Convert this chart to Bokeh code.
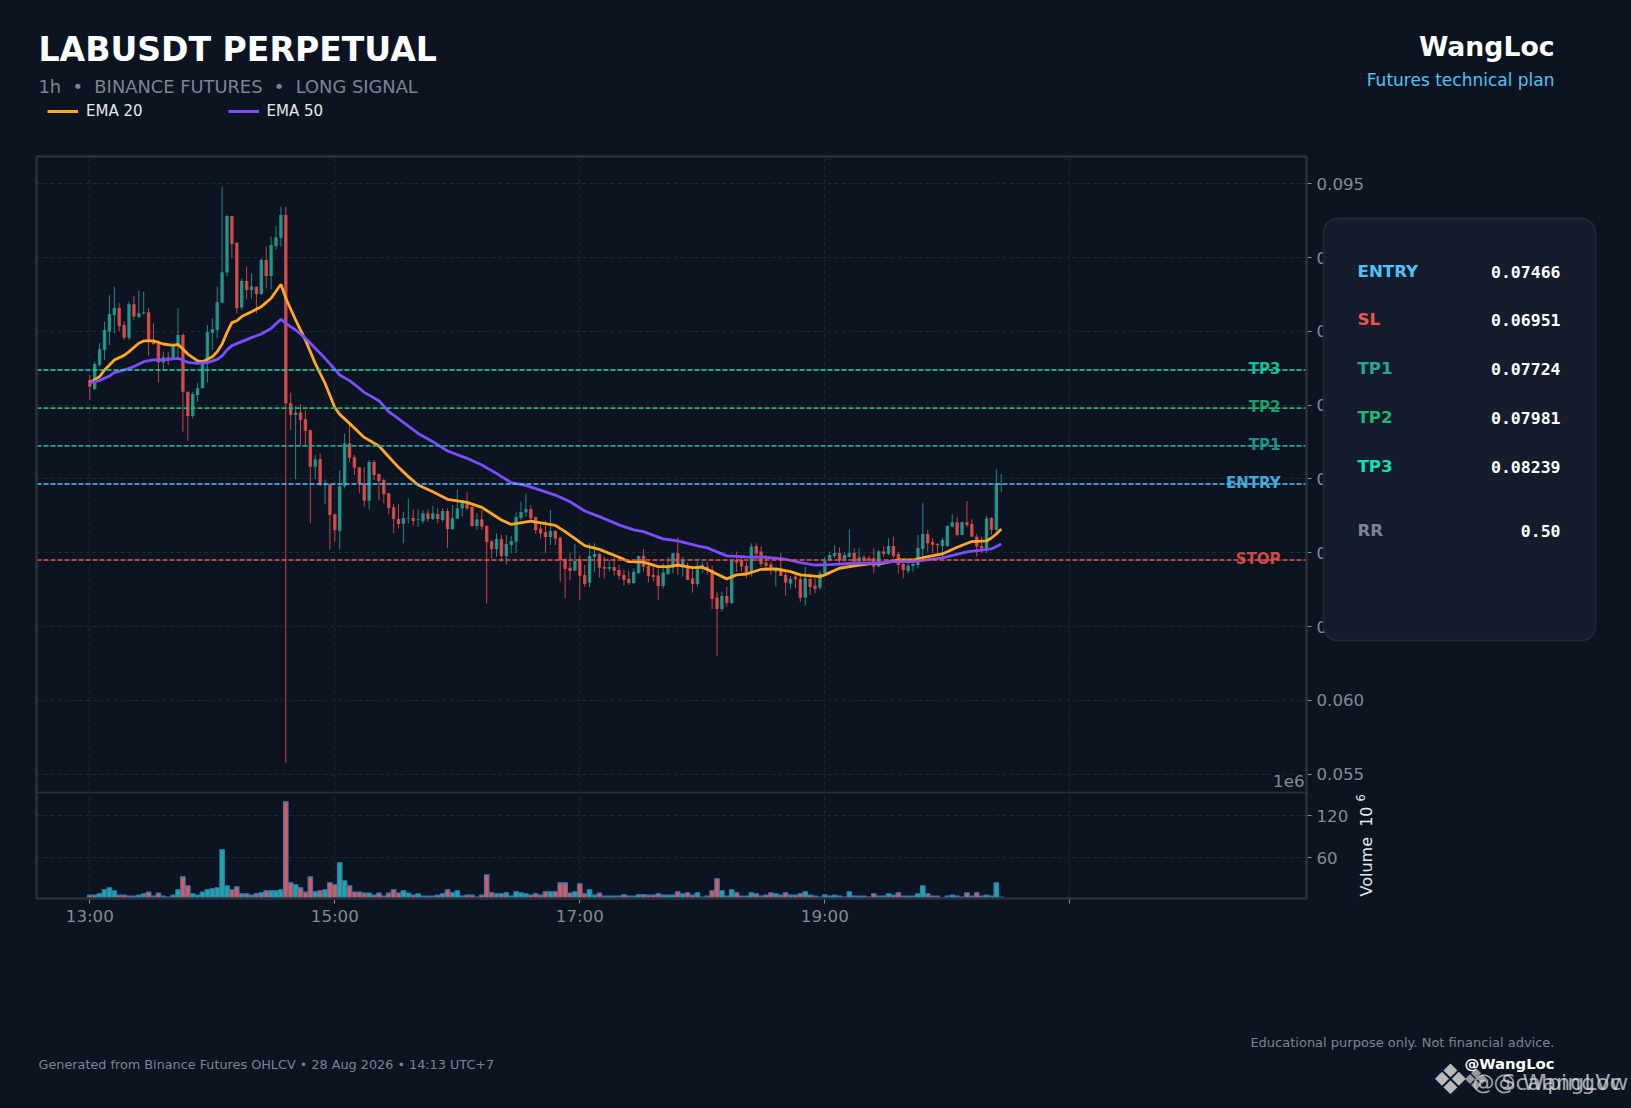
from bokeh.plotting import figure
from bokeh.models import (ColumnDataSource, Range1d, FixedTicker, Grid, Span, Label, BoxAnnotation,
                          Legend, LegendItem)
from bokeh.layouts import column
from bokeh.embed import file_html
from bokeh.resources import INLINE
import math

# ---- data (prices in units of 1e-5) ----
open_e5 = [8171,8110,8273,8375,8499,8612,8659,8544,8458,8684,8598,8623,8630,8442,8415,8289,8325,8318,8397,8476,
 8092,7927,8069,8115,8284,8492,8510,8695,8899,9283,9102,8662,8842,8781,8804,8754,8985,8876,9080,9136,
 9290,8013,7934,7950,7907,7832,7583,7635,7457,7466,7260,7149,7452,7742,7647,7579,7470,7353,7615,7534,
 7493,7403,7308,7229,7197,7231,7235,7222,7215,7267,7229,7262,7222,7283,7161,7231,7301,7346,7312,7181,
 7226,7181,7077,7025,7093,6978,7052,7075,7235,7274,7296,7242,7163,7140,7107,7147,7102,6957,6899,6878,
 6957,6849,6797,6973,6991,6903,6892,6903,6883,6850,6823,6795,6863,6979,6911,6850,6845,6775,6856,6899,
 6997,6906,6906,6827,6789,6890,6906,6884,6696,6619,6707,6660,6951,6951,6913,6872,7046,7008,6933,6922,
 6872,6895,6850,6791,6838,6823,6696,6823,6777,6764,6861,6951,6979,6999,6956,6972,6999,6940,6969,6963,
 6963,6906,7010,6992,7046,6992,6924,6877,6911,6917,7026,7128,7073,7060,7046,7046,7177,7207,7121,7207,
 7195,7110,7046,7030,7236,7155,7460]
high_e5 = [8205,8295,8420,8567,8745,8804,8691,8567,8702,8741,8777,8770,8657,8555,8442,8363,8363,8424,8657,8488,
 8092,8092,8149,8307,8544,8589,8804,9482,9290,9283,9102,8860,8940,8894,8804,8996,9075,9143,9215,9346,
 9346,8085,7995,8008,7968,7832,7662,7674,7493,7466,7267,7561,7809,7877,7662,7579,7579,7629,7629,7534,
 7504,7403,7330,7330,7278,7369,7294,7294,7290,7294,7317,7301,7301,7301,7323,7430,7357,7409,7312,7267,
 7290,7186,7086,7131,7120,7120,7113,7278,7346,7403,7323,7244,7188,7217,7290,7154,7109,6962,6996,7059,
 6984,6917,7068,7064,6996,6973,6951,6969,6917,6884,6877,6895,6979,7026,6940,6917,6895,6929,6970,7001,
 7105,6974,6933,6911,6940,6940,6940,6911,6732,6737,6771,6951,7008,6974,6940,7064,7064,7042,6985,6940,
 6895,6997,6884,6843,6861,6861,6906,6861,6827,6879,6974,7008,7051,7037,7008,7159,7030,7030,6985,6979,
 7030,7019,7042,7098,7110,7008,6951,6929,6947,7121,7336,7155,7098,7064,7103,7182,7263,7241,7211,7351,
 7227,7128,7110,7250,7241,7566,7534]
low_e5 = [8036,8103,8262,8307,8408,8488,8499,8442,8442,8578,8590,8612,8336,8408,8155,8239,8273,8307,8318,7821,
 7760,7911,8024,8115,8155,8375,8454,8691,8872,8996,8623,8646,8718,8725,8623,8747,8793,8786,9053,9075,
 5575,7832,7498,7726,7730,7199,7498,7452,7328,7023,7075,7023,7436,7617,7527,7403,7308,7294,7493,7357,
 7335,7262,7131,7165,7064,7199,7183,7177,7199,7210,7222,7199,7210,7034,7154,7231,7244,7290,7177,7154,
 7154,6657,6962,6973,6939,6921,6996,6996,7222,7244,7222,7127,7097,6996,7052,7052,6804,6691,6815,6878,
 6679,6770,6765,6871,6833,6826,6871,6846,6820,6777,6782,6789,6857,6872,6800,6805,6680,6759,6850,6861,
 6850,6838,6816,6730,6771,6861,6850,6617,6301,6601,6635,6653,6872,6872,6827,6838,6940,6906,6895,6850,
 6771,6843,6710,6753,6759,6669,6642,6714,6725,6748,6850,6940,6963,6917,6940,6969,6911,6918,6911,6933,
 6861,6906,6974,6985,6963,6861,6827,6861,6872,6895,6951,7008,6997,6985,6974,7037,7173,7110,7121,7173,
 7105,6974,6997,6997,7121,7144,7412]
close_e5 = [8126,8280,8379,8510,8619,8659,8537,8458,8684,8601,8623,8630,8442,8415,8289,8325,8307,8397,8476,8092,
 7927,8076,8115,8284,8494,8515,8698,8901,9283,9093,8657,8842,8781,8804,8754,8985,8876,9086,9138,9290,
 8013,7934,7950,7900,7827,7583,7633,7459,7466,7256,7154,7452,7742,7644,7577,7470,7353,7615,7527,7486,
 7398,7305,7229,7195,7235,7235,7215,7226,7267,7229,7267,7229,7283,7161,7233,7301,7335,7301,7181,7226,
 7177,7073,7025,7093,6978,7059,7079,7242,7276,7296,7233,7154,7131,7107,7147,7095,6951,6890,6876,6944,
 6844,6788,6978,6991,6899,6892,6903,6878,6844,6816,6795,6870,6979,6906,6843,6836,6775,6866,6899,6997,
 6906,6947,6816,6789,6906,6917,6884,6687,6619,6707,6660,6951,6933,6906,6854,7042,6994,6924,6911,6895,
 6884,6843,6798,6823,6820,6694,6827,6768,6755,6861,6947,6985,6999,6947,6985,6999,6940,6969,6947,6947,
 6906,7010,6992,7046,6979,6917,6884,6913,6924,7033,7128,7064,7053,7051,7087,7182,7207,7121,7207,7189,
 7110,7042,7030,7232,7155,7471,7466]
volume_m = [6.7,6.7,8.6,14.3,17.1,12.9,6.7,6.7,5.2,5.2,6.7,8.6,10.9,5.2,9.5,5.2,3.8,6.7,14.3,32.8,
 20,8.6,6.7,10.9,14.3,15.7,17.1,71.4,20,14.3,18.6,8.6,8.6,6.7,8.6,10,12.9,12.9,12.9,14.3,
 140,24.3,21.4,17.1,10.9,32.8,11.4,12.9,14.3,24.3,21.4,52.8,27.1,20,10.9,10.9,9.5,9.5,6.7,9.5,
 5.2,9.5,14.3,9.5,12.9,9.5,6.7,8.6,5.2,5.2,5.2,6.7,8.6,14.3,10,12.9,5.2,6.7,6.7,3.8,
 6.7,35.7,10,8.6,8.6,10,5.2,11.4,10,8.6,6.7,8.6,6.7,11.4,11.4,11.4,24.3,24.3,9.5,11.4,
 22.8,8.6,14.3,6.7,9.5,5.2,5.2,5.2,5.2,7.1,5.2,5.2,7.1,7.1,6.7,6.7,8.6,6.7,6.7,6.7,
 11.4,8.6,10,6.7,10,3.8,5.2,12.9,30,12.9,5.2,14.3,10,5.2,5.2,10,8.6,5.2,6.7,10,
 8.6,6.7,10,6.7,6.7,8.6,11.4,6.7,5.2,3.8,7.1,5.2,6.7,5.2,3.8,11.4,5.2,5.2,5.2,3.8,
 8.6,5.2,5.2,8.6,6.7,10,5.2,5.2,5.2,8.6,20,8.6,5.2,5.2,2.9,5.2,6.7,5.2,3.8,10,
 5.2,10,5.2,6.7,5.2,24.3,3.8]
ema20_idx = [0,2,3,5,7,8,10,11,13,15,17,18,20,22,23,25,26,27,28,29,30,31,33,35,37,39,40,42,44,46,48,50,51,53,56,59,61,63,65,67,70,73,77,80,84,86,90,95,97,101,104,108,110,113,116,118,120,123,125,127,130,132,134,137,140,143,145,149,150,153,156,159,162,165,168,171,174,177,180,183,184,185,186]
ema20_e5 = [8153,8194,8239,8307,8338,8363,8420,8436,8436,8415,8406,8413,8347,8300,8295,8329,8363,8415,8494,8560,8573,8601,8634,8668,8725,8820,8725,8578,8442,8284,8149,7985,7938,7877,7782,7724,7651,7579,7516,7459,7414,7362,7342,7308,7222,7192,7215,7186,7143,7048,7023,6970,6940,6936,6906,6906,6917,6899,6902,6872,6823,6850,6856,6888,6890,6872,6850,6838,6850,6895,6911,6924,6929,6951,6951,6974,6992,7037,7076,7080,7100,7127,7161]
ema50_idx = [0,2,4,5,7,9,11,13,15,18,20,22,24,26,27,28,29,31,33,35,37,39,40,42,44,46,48,50,51,53,55,56,59,61,64,67,70,73,77,80,83,86,89,95,98,101,104,108,111,113,117,120,124,126,130,134,138,142,145,148,151,156,160,164,168,174,179,184,186]
ema50_e5 = [8153,8167,8198,8221,8239,8262,8295,8307,8307,8318,8291,8284,8289,8311,8334,8375,8404,8431,8458,8483,8521,8583,8555,8510,8454,8386,8318,8244,8205,8167,8115,8087,8031,7956,7884,7809,7753,7690,7640,7595,7538,7475,7457,7391,7346,7283,7245,7189,7155,7143,7094,7080,7046,7033,6979,6972,6969,6956,6933,6917,6920,6929,6929,6940,6940,6965,7006,7026,7060]
time_ticks = [0, 50, 100, 150, 200]
time_labels = ["13:00", "15:00", "17:00", "19:00", ""]
price_ticks = [0.055, 0.060, 0.065, 0.070, 0.075, 0.080, 0.085, 0.090, 0.095]
volume_ticks = [60, 120]
levels = [("ENTRY", 0.07466), ("SL", 0.06951), ("TP1", 0.07724), ("TP2", 0.07981), ("TP3", 0.08239)]
rr_value = "0.50"

# ---- style ----
BG = "#0c1421"; FRAME = "#2a303b"; GRID = "#1e2632"; TICK_TXT = "#848a95"
UP = "#26a69a"; DOWN = "#ef5350"; VOL_EDGE = "#2a7fc0"
LEVEL_COL = {"ENTRY": "#4fc3f7", "SL": "#ef5350", "TP1": "#26a69a", "TP2": "#22b573", "TP3": "#14e0ae"}
FONT = "DejaVu Sans"; MONO = "DejaVu Sans Mono"
W = 1631; H1 = 792; H2 = 316
XR = (-10.88, 248.3)

n = len(close_e5)
idx = list(range(n))
up = [close_e5[i] >= open_e5[i] for i in idx]
cols = [UP if u else DOWN for u in up]
candles = ColumnDataSource(dict(
    x=idx, o=[v / 1e5 for v in open_e5], h=[v / 1e5 for v in high_e5],
    l=[v / 1e5 for v in low_e5], c=[v / 1e5 for v in close_e5],
    top=[max(open_e5[i], close_e5[i]) / 1e5 for i in idx],
    bot=[min(open_e5[i], close_e5[i]) / 1e5 for i in idx],
    col=cols, vol=volume_m))

def base(height, yr, bt, bb):
    f = figure(width=W, height=height, x_range=Range1d(*XR), y_range=Range1d(*yr),
               output_backend="svg", toolbar_location=None, y_axis_location="right",
               x_axis_location="below" if bb else None, tools="",
               background_fill_color=BG, border_fill_color=BG,
               min_border_left=36, min_border_right=325, min_border_top=bt, min_border_bottom=bb)
    f.outline_line_color = None
    for g in list(f.grid):
        g.visible = False
    f.add_layout(Grid(dimension=0, ticker=FixedTicker(ticks=time_ticks), grid_line_color=GRID,
                      grid_line_dash="4 3", grid_line_width=1))
    ya = f.yaxis[0]
    ya.axis_line_color = None
    ya.major_tick_line_color = TICK_TXT
    ya.major_tick_in = 0; ya.major_tick_out = 5; ya.minor_tick_line_color = None
    ya.major_label_text_color = TICK_TXT
    ya.major_label_text_font = FONT
    ya.major_label_text_font_size = "16.67px"
    ya.major_label_standoff = 5
    return f

# ---- price panel ----
p = base(H1, (0.05375, 0.09686), 156, 0)
p.yaxis[0].ticker = FixedTicker(ticks=price_ticks)
p.yaxis[0].major_label_overrides = {v: f"{v:.3f}" for v in price_ticks}
p.add_layout(Grid(dimension=1, ticker=FixedTicker(ticks=price_ticks), grid_line_color=GRID,
                  grid_line_dash="4 3", grid_line_width=1))
p.segment("x", "h", "x", "l", source=candles, line_color="col", line_width=1, line_alpha=0.8)
p.vbar("x", 0.7, "top", "bot", source=candles, fill_color="col", line_color=None, fill_alpha=0.8)

for name, val in levels:
    c = LEVEL_COL[name]
    p.add_layout(Span(location=val, dimension="width", line_color=c, line_width=1.7, line_dash="5 2"))
    p.add_layout(Label(x=243, y=val, y_offset=1, text="STOP" if name == "SL" else name, text_color=c, text_align="right",
                       text_baseline="middle", text_font=FONT, text_font_size="15px", text_font_style="bold",
                       text_alpha=0.85))

EMA20_COL = "#ffa726"; EMA50_COL = "#7c4dff"
p.line(ema20_idx, [v / 1e5 for v in ema20_e5], line_color=EMA20_COL, line_width=2.8)
p.line(ema50_idx, [v / 1e5 for v in ema50_e5], line_color=EMA50_COL, line_width=2.8)

# ---- volume panel ----
q = base(H2, (1.9, 153.3), 0, 210)
q.yaxis[0].ticker = FixedTicker(ticks=volume_ticks)
q.add_layout(Grid(dimension=1, ticker=FixedTicker(ticks=volume_ticks), grid_line_color=GRID,
                  grid_line_dash="4 3", grid_line_width=1))
q.vbar("x", 0.9, "vol", 0, source=candles, fill_color="col", line_color=VOL_EDGE, line_width=1.2)
xa = q.xaxis[0]
xa.ticker = FixedTicker(ticks=time_ticks)
xa.major_label_overrides = dict(zip(time_ticks, time_labels))
xa.axis_line_color = None
xa.major_tick_line_color = TICK_TXT
xa.major_tick_in = 0; xa.major_tick_out = 5; xa.minor_tick_line_color = None
xa.major_label_text_color = TICK_TXT
xa.major_label_text_font = FONT
xa.major_label_text_font_size = "16.67px"
xa.major_label_standoff = 3

# ---- transparent page-sized layer for header, info card, legend and footer ----
o = figure(width=W, height=H1 + H2, x_range=Range1d(0, W), y_range=Range1d(H1 + H2, 0), output_backend="svg",
           toolbar_location=None, tools="", x_axis_location=None, y_axis_location=None,
           background_fill_color=None, border_fill_color=None, min_border=0,
           margin=(-(H1 + H2), 0, 0, 0))
o.outline_line_color = None
o.grid.visible = False

def text(X, Y, txt, col, size, bold=False, align="left", font=FONT, alpha=1.0, angle=0):
    # Label places "alphabetic" text about 0.36 em past the anchor: compensate so Y is the true baseline
    if angle:
        X -= 0.36 * size
    else:
        Y -= 0.36 * size
    o.add_layout(Label(x=X, y=Y, text=txt, text_color=col, text_font=font, text_font_size=f"{size}px",
                       text_font_style="bold" if bold else "normal", text_align=align,
                       text_baseline="alphabetic", text_alpha=alpha, angle=angle))

# chart frame and the thin divider between price and volume panels
o.add_layout(BoxAnnotation(left=36, right=1306, top=156, bottom=898, fill_alpha=0, line_color=FRAME, line_alpha=1, line_width=2.6))
o.add_layout(BoxAnnotation(left=36, right=1306, top=792, bottom=792, fill_alpha=0, line_color=FRAME, line_alpha=1, line_width=1.6))

text(38, 61, "LABUSDT PERPETUAL", "#ffffff", 33.1, True)
text(38, 92, "1h\u00a0\u00a0•\u00a0\u00a0BINANCE FUTURES\u00a0\u00a0•\u00a0\u00a0LONG SIGNAL", "#7c8494", 17.85)
text(1554, 56, "WangLoc", "#ffffff", 26.67, True, "right")
text(1554, 86, "Futures technical plan", "#4fc3f7", 17, False, "right")

r20 = o.line([-60, -50], [-60, -60], line_color=EMA20_COL, line_width=3)
r50 = o.line([-60, -50], [-60, -60], line_color=EMA50_COL, line_width=3)
legend = Legend(items=[LegendItem(label="EMA 20", renderers=[r20]), LegendItem(label="EMA 50", renderers=[r50])],
                location=(47, 988), orientation="horizontal", background_fill_alpha=0, border_line_color=None,
                margin=0, padding=0, spacing=85, glyph_width=31, glyph_height=14, label_standoff=8,
                label_text_color="#e6e8ec", label_text_font=FONT, label_text_font_size="15px")
o.add_layout(legend, "center")

o.add_layout(BoxAnnotation(left=1323, right=1595, top=218, bottom=640, fill_color="#151c2b", fill_alpha=1,
                           line_color="#232a38", line_alpha=1, line_width=1.5, border_radius=14))
rows = [("ENTRY", "0.07466", 277), ("SL", "0.06951", 325.5), ("TP1", "0.07724", 374), ("TP2", "0.07981", 423), ("TP3", "0.08239", 472)]
for name, txt, Y in rows:
    text(1357, Y, name, LEVEL_COL[name], 16.67, True)
    text(1560, Y, txt, "#ffffff", 16.5, True, "right", MONO)
text(1357, 536, "RR", "#7d8594", 16.67, True)
text(1560, 536, rr_value, "#ffffff", 16.5, True, "right", MONO)

text(1304, 787, "1e6", TICK_TXT, 16.67, False, "right")
text(1372, 896, "Volume\u00a0\u00a010", "#e6e8ec", 16, angle=math.pi / 2)
text(1364, 801, "6", "#e6e8ec", 11.5, angle=math.pi / 2)
text(38, 1069, "Generated from Binance Futures OHLCV • 28 Aug 2026 • 14:13 UTC+7", "#7c8494", 12.8)
text(1554, 1047, "Educational purpose only. Not financial advice.", "#7c8494", 13, align="right")
text(1554, 1068, "@WangLoc", "#ffffff", 14.8, True, "right")
text(1431, 1094, "❖", "#d8d8d8", 42, alpha=0.85)
text(1462, 1090, "❖", "#d8d8d8", 30, alpha=0.7)
text(1472, 1090, "@ ScalpingVw", "#d8d8d8", 22, alpha=0.75)
text(1493, 1090, "@ WangLoc", "#d8d8d8", 22, alpha=0.75)

html = file_html([column(p, q, spacing=0), o], INLINE)
html = html.replace("<head>", f"<head><style>html,body{{background:{BG};}}</style>", 1)
open("out.html", "w").write(html)
